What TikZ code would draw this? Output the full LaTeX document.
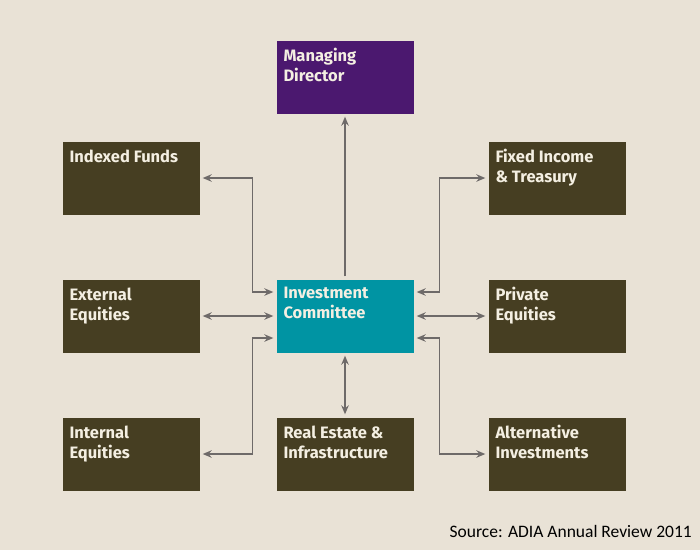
\documentclass[tikz,border=0pt]{standalone}
\usepackage{fontspec}
\setmainfont{Fira Sans}
\newfontfamily\sourcefont{Carlito}
\usetikzlibrary{arrows.meta}
\definecolor{bgbeige}{HTML}{E9E2D6}
\definecolor{boxolive}{HTML}{463E22}
\definecolor{boxteal}{HTML}{0094A3}
\definecolor{boxpurple}{HTML}{4B186F}
\definecolor{boxtext}{HTML}{F4EFE2}
\definecolor{linkgray}{HTML}{6E6A69}
\begin{document}
\begin{tikzpicture}[x=1pt, y=-1pt,
	unitbox/.style={fill=#1, minimum width=137pt, minimum height=73pt, inner sep=0pt},
	unitbox/.default=boxolive,
	boxlabel/.style={anchor=north west, inner xsep=7pt, inner ysep=8pt, align=left, text=boxtext, font=\bfseries\fontsize{16.5}{20}\selectfont},
	link/.style={draw=linkgray, line width=1.4pt, shorten <=3pt, shorten >=3pt},
	tip/.style={-{Stealth[length=9pt, width=7.5pt, inset=3pt]}},
	tips/.style={{Stealth[length=9pt, width=7.5pt, inset=3pt]}-{Stealth[length=9pt, width=7.5pt, inset=3pt]}}]
	% Background and page size:
	\fill[bgbeige] (0, 0) rectangle (700, 550);
	% Boxes:
	\node[unitbox=boxpurple] (md) at (345, 77){};
	\node[unitbox] (idx) at (131, 178){};
	\node[unitbox] (fix) at (557, 178){};
	\node[unitbox] (ext) at (131, 316){};
	\node[unitbox=boxteal] (ic) at (345, 316){};
	\node[unitbox] (prv) at (557, 316){};
	\node[unitbox] (int) at (131, 454){};
	\node[unitbox] (re) at (345, 454){};
	\node[unitbox] (alt) at (557, 454){};
	% Box texts:
	\node[boxlabel] at (md.north west){Managing\\Director};
	\node[boxlabel] at (idx.north west){Indexed Funds};
	\node[boxlabel] at (fix.north west){Fixed Income\\\& Treasury};
	\node[boxlabel] at (ext.north west){External\\Equities};
	\node[boxlabel] at (ic.north west){Investment\\Committee};
	\node[boxlabel] at (prv.north west){Private\\Equities};
	\node[boxlabel] at (int.north west){Internal\\Equities};
	\node[boxlabel] at (re.north west){Real Estate \&\\Infrastructure};
	\node[boxlabel] at (alt.north west){Alternative\\Investments};
	% Connectors:
	\draw[link, tip] (ic.north) -- (md.south);
	\draw[link, tips] (ic.south) -- (re.north);
	\draw[link, tips] (ext.east) -- (ic.west);
	\draw[link, tips] (prv.west) -- (ic.east);
	\draw[link, tips] (idx.east) -| ([xshift=-24pt, yshift=24pt]ic.west) -- ([yshift=24pt]ic.west);
	\draw[link, tips] (int.east) -| ([xshift=-24pt, yshift=-22pt]ic.west) -- ([yshift=-22pt]ic.west);
	\draw[link, tips] (fix.west) -| ([xshift=26pt, yshift=24pt]ic.east) -- ([yshift=24pt]ic.east);
	\draw[link, tips] (alt.west) -| ([xshift=26pt, yshift=-22pt]ic.east) -- ([yshift=-22pt]ic.east);
	% Source note:
	\node[anchor=base east, inner sep=0pt, font=\sourcefont\fontsize{17.5}{20}\selectfont] (src) at (692, 537){Source: ADIA Annual Review 2011};
\end{tikzpicture}
\end{document}
